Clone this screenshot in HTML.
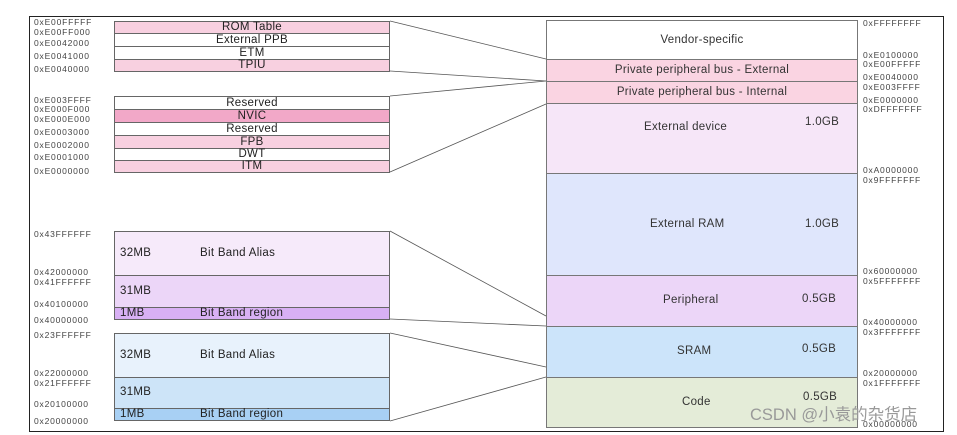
<!DOCTYPE html>
<html><head><meta charset="utf-8"><style>
body{margin:0;background:#fff;width:957px;height:435px;overflow:hidden;position:relative;font-family:"Liberation Sans",sans-serif}
.a{position:absolute;font-size:8.5px;color:#444;letter-spacing:0.8px;line-height:10px;white-space:nowrap}
.b{position:absolute;box-sizing:border-box;border:1px solid #666;font-size:11.5px;letter-spacing:0.3px;color:#222;text-align:center}
.r{position:absolute;left:546px;width:312px;box-sizing:border-box;border:1px solid #777;font-size:11.5px;letter-spacing:0.3px;color:#333}
</style></head><body>
<div style="position:absolute;left:29px;top:16px;width:915px;height:416px;border:1px solid #222;box-sizing:border-box"></div>
<svg style="position:absolute;left:0;top:0" width="957" height="435"><g stroke="#555" stroke-width="0.8">
<line x1="390" y1="21" x2="546" y2="59"/><line x1="390" y1="71" x2="546" y2="81"/>
<line x1="390" y1="96" x2="546" y2="81"/><line x1="390" y1="172" x2="546" y2="104"/>
<line x1="390" y1="231" x2="546" y2="316"/><line x1="390" y1="319" x2="546" y2="326"/>
<line x1="390" y1="333" x2="546" y2="367"/><line x1="390" y1="421" x2="546" y2="377"/></g></svg>
<div class="b" style="left:114px;top:21px;width:276px;height:13px;background:#f8d0e0;line-height:11px">ROM Table</div>
<div class="b" style="left:114px;top:33px;width:276px;height:14px;background:#fff;line-height:12px">External PPB</div>
<div class="b" style="left:114px;top:46px;width:276px;height:14px;background:#fff;line-height:12px">ETM</div>
<div class="b" style="left:114px;top:59px;width:276px;height:13px;background:#f8d0e0;line-height:11px">TPIU</div>
<div class="b" style="left:114px;top:96px;width:276px;height:14px;background:#fff;line-height:12px">Reserved</div>
<div class="b" style="left:114px;top:109px;width:276px;height:14px;background:#f2a8c8;line-height:12px">NVIC</div>
<div class="b" style="left:114px;top:122px;width:276px;height:14px;background:#fff;line-height:12px">Reserved</div>
<div class="b" style="left:114px;top:135px;width:276px;height:14px;background:#f8d0e0;line-height:12px">FPB</div>
<div class="b" style="left:114px;top:148px;width:276px;height:13px;background:#fff;line-height:11px">DWT</div>
<div class="b" style="left:114px;top:160px;width:276px;height:13px;background:#f8d0e0;line-height:11px">ITM</div>
<div class="b" style="left:114px;top:231px;width:276px;height:45px;background:#f6eafa;text-align:left"><span style="position:absolute;left:5px;top:15px">32MB</span><span style="position:absolute;left:85px;top:15px">Bit Band Alias</span></div>
<div class="b" style="left:114px;top:275px;width:276px;height:33px;background:#ecd6f8;text-align:left"><span style="position:absolute;left:5px;top:9px">31MB</span></div>
<div class="b" style="left:114px;top:307px;width:276px;height:13px;background:#d8b0f4;text-align:left;line-height:11px"><span style="position:absolute;left:5px">1MB</span><span style="position:absolute;left:85px">Bit Band region</span></div>
<div class="b" style="left:114px;top:333px;width:276px;height:45px;background:#e8f2fc;text-align:left"><span style="position:absolute;left:5px;top:15px">32MB</span><span style="position:absolute;left:85px;top:15px">Bit Band Alias</span></div>
<div class="b" style="left:114px;top:377px;width:276px;height:32px;background:#cde4f8;text-align:left"><span style="position:absolute;left:5px;top:8px">31MB</span></div>
<div class="b" style="left:114px;top:408px;width:276px;height:13px;background:#a8d0f4;text-align:left;line-height:11px"><span style="position:absolute;left:5px">1MB</span><span style="position:absolute;left:85px">Bit Band region</span></div>
<div class="a" style="left:34px;top:17px">0xE00FFFFF</div>
<div class="a" style="left:34px;top:27px">0xE00FF000</div>
<div class="a" style="left:34px;top:38px">0xE0042000</div>
<div class="a" style="left:34px;top:51px">0xE0041000</div>
<div class="a" style="left:34px;top:64px">0xE0040000</div>
<div class="a" style="left:34px;top:95px">0xE003FFFF</div>
<div class="a" style="left:34px;top:104px">0xE000F000</div>
<div class="a" style="left:34px;top:114px">0xE000E000</div>
<div class="a" style="left:34px;top:127px">0xE0003000</div>
<div class="a" style="left:34px;top:140px">0xE0002000</div>
<div class="a" style="left:34px;top:152px">0xE0001000</div>
<div class="a" style="left:34px;top:166px">0xE0000000</div>
<div class="a" style="left:34px;top:229px">0x43FFFFFF</div>
<div class="a" style="left:34px;top:267px">0x42000000</div>
<div class="a" style="left:34px;top:277px">0x41FFFFFF</div>
<div class="a" style="left:34px;top:299px">0x40100000</div>
<div class="a" style="left:34px;top:315px">0x40000000</div>
<div class="a" style="left:34px;top:330px">0x23FFFFFF</div>
<div class="a" style="left:34px;top:368px">0x22000000</div>
<div class="a" style="left:34px;top:378px">0x21FFFFFF</div>
<div class="a" style="left:34px;top:399px">0x20100000</div>
<div class="a" style="left:34px;top:416px">0x20000000</div>
<div class="r" style="top:20px;height:40px;background:#fff;text-align:center;line-height:38px">Vendor-specific</div>
<div class="r" style="top:59px;height:23px;background:#fad4e2;text-align:center;line-height:21px">Private peripheral bus - External</div>
<div class="r" style="top:81px;height:23px;background:#fad4e2;text-align:center;line-height:21px">Private peripheral bus - Internal</div>
<div class="r" style="top:103px;height:71px;background:#f6e6f8"><span style="position:absolute;left:97px;top:17px">External device</span><span style="position:absolute;left:258px;top:12px">1.0GB</span></div>
<div class="r" style="top:173px;height:103px;background:#dfe6fc"><span style="position:absolute;left:103px;top:44px">External RAM</span><span style="position:absolute;left:258px;top:44px">1.0GB</span></div>
<div class="r" style="top:275px;height:52px;background:#ecd6f8"><span style="position:absolute;left:116px;top:18px">Peripheral</span><span style="position:absolute;left:255px;top:17px">0.5GB</span></div>
<div class="r" style="top:326px;height:52px;background:#cce4fa"><span style="position:absolute;left:130px;top:18px">SRAM</span><span style="position:absolute;left:255px;top:16px">0.5GB</span></div>
<div class="r" style="top:377px;height:51px;background:#e4ecd8"><span style="position:absolute;left:135px;top:18px">Code</span><span style="position:absolute;left:256px;top:13px">0.5GB</span></div>
<div class="a" style="left:863px;top:18px">0xFFFFFFFF</div>
<div class="a" style="left:863px;top:50px">0xE0100000</div>
<div class="a" style="left:863px;top:59px">0xE00FFFFF</div>
<div class="a" style="left:863px;top:72px">0xE0040000</div>
<div class="a" style="left:863px;top:82px">0xE003FFFF</div>
<div class="a" style="left:863px;top:95px">0xE0000000</div>
<div class="a" style="left:863px;top:104px">0xDFFFFFFF</div>
<div class="a" style="left:863px;top:165px">0xA0000000</div>
<div class="a" style="left:863px;top:175px">0x9FFFFFFF</div>
<div class="a" style="left:863px;top:266px">0x60000000</div>
<div class="a" style="left:863px;top:276px">0x5FFFFFFF</div>
<div class="a" style="left:863px;top:317px">0x40000000</div>
<div class="a" style="left:863px;top:327px">0x3FFFFFFF</div>
<div class="a" style="left:863px;top:368px">0x20000000</div>
<div class="a" style="left:863px;top:378px">0x1FFFFFFF</div>
<div class="a" style="left:863px;top:419px">0x00000000</div>
<div style="position:absolute;left:750px;top:401px;font-size:16.5px;color:#999;font-family:'Liberation Sans','Noto Sans CJK SC',sans-serif;white-space:nowrap">CSDN @小袁的杂货店</div>
</body></html>
